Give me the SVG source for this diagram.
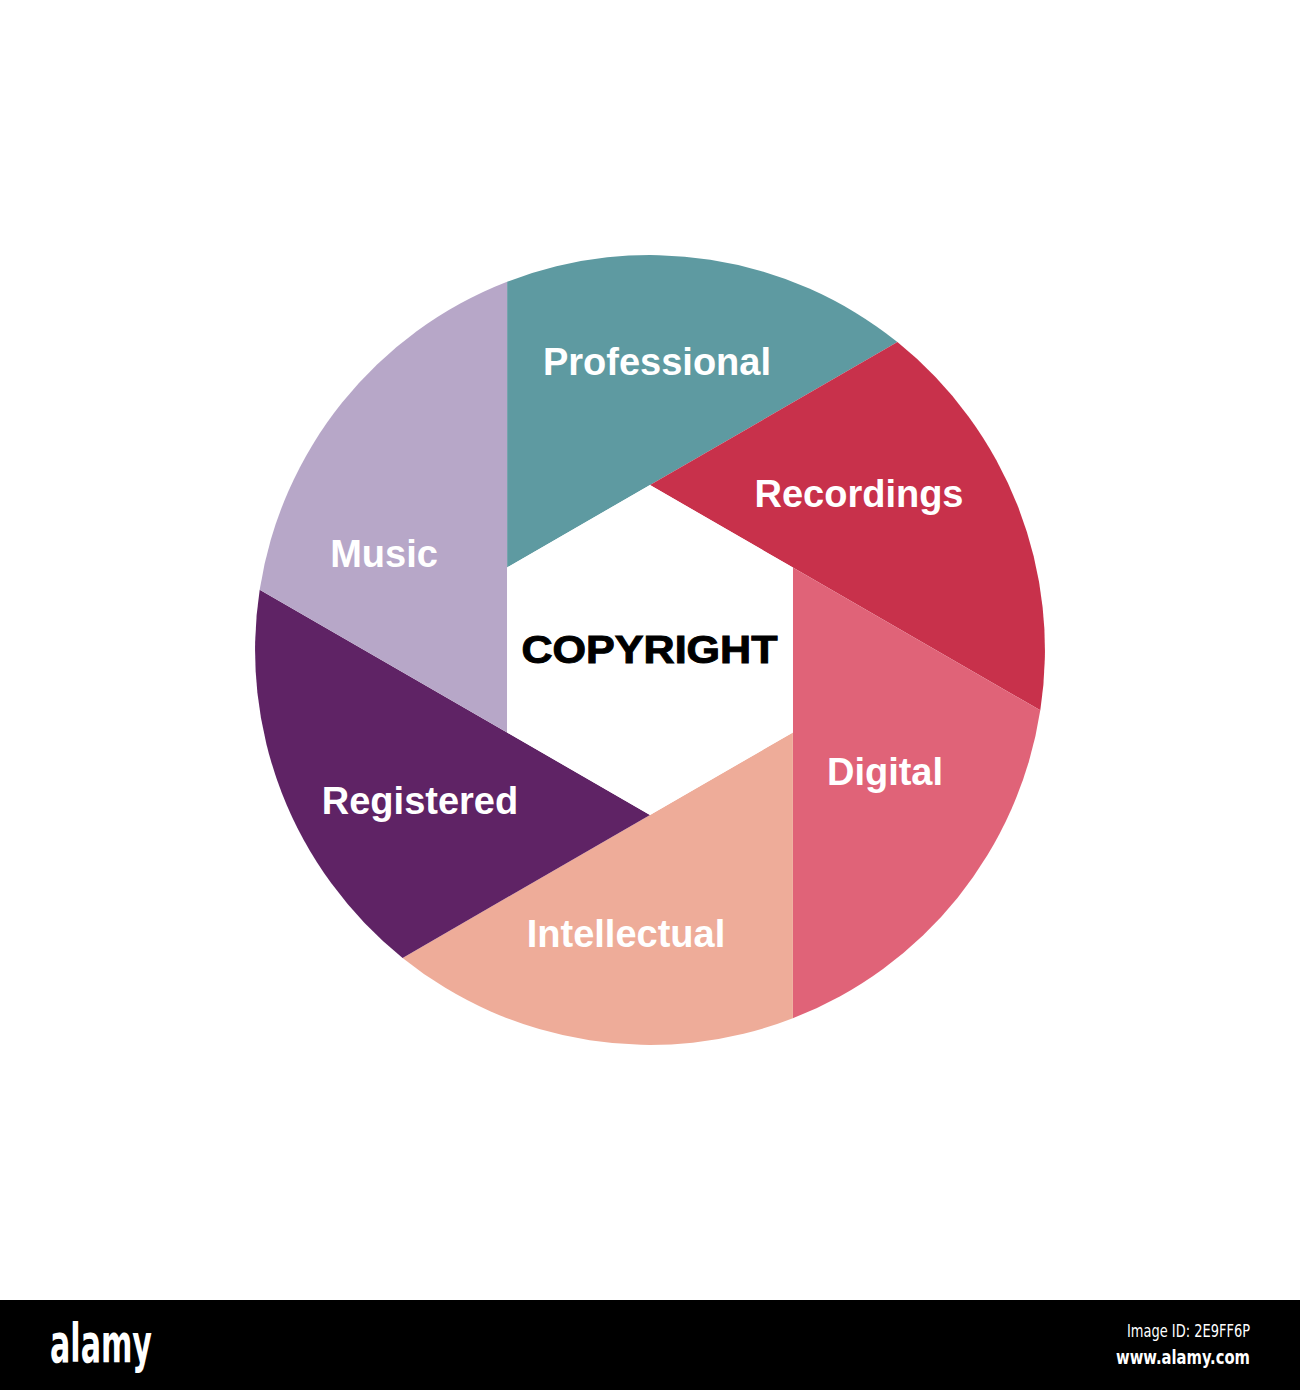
<svg xmlns="http://www.w3.org/2000/svg" width="1300" height="1390" viewBox="0 0 1300 1390">
  <style>
    .lbl { font-family: "Liberation Sans", Arial, sans-serif; font-weight: bold; font-size: 38px; fill: #ffffff; text-anchor: middle; }
    .center { font-family: "Liberation Sans", Arial, sans-serif; font-weight: bold; font-size: 39px; fill: #000000; stroke: #000000; stroke-width: 1; text-anchor: middle; }
    .seg { stroke: none; }
  </style>
  <rect x="0" y="0" width="1300" height="1390" fill="#ffffff"/>
  <g id="connectors"></g>
  <g id="professional">
    <path class="seg" fill="#5e9aa1" d="M507.1,567.5 L507.1,281.8 A395,395 0 0 1 897.4,342.1 L650,485 Z"/>
    <text class="lbl" x="657" y="375">Professional</text>
  </g>
  <g id="recordings">
    <path class="seg" fill="#c8314b" d="M650,485 L897.4,342.1 A395,395 0 0 1 1040.3,710.3 L792.9,567.5 Z"/>
    <text class="lbl" x="859" y="507">Recordings</text>
  </g>
  <g id="digital">
    <path class="seg" fill="#e06378" d="M792.9,567.5 L1040.3,710.3 A395,395 0 0 1 792.9,1018.2 L792.9,732.5 Z"/>
    <text class="lbl" x="885" y="785">Digital</text>
  </g>
  <g id="intellectual">
    <path class="seg" fill="#eeac99" d="M792.9,732.5 L792.9,1018.2 A395,395 0 0 1 402.6,957.9 L650,815 Z"/>
    <text class="lbl" x="626" y="947">Intellectual</text>
  </g>
  <g id="registered">
    <path class="seg" fill="#5f2365" d="M650,815 L402.6,957.9 A395,395 0 0 1 259.7,589.7 L507.1,732.5 Z"/>
    <text class="lbl" x="420" y="814">Registered</text>
  </g>
  <g id="music">
    <path class="seg" fill="#b7a7c8" d="M507.1,732.5 L259.7,589.7 A395,395 0 0 1 507.1,281.8 L507.1,567.5 Z"/>
    <text class="lbl" x="384" y="567">Music</text>
  </g>
  <g id="copyright">
    <path fill="#ffffff" d="M650,485 L792.9,567.5 L792.9,732.5 L650,815 L507.1,732.5 L507.1,567.5 Z"/>
    <text class="center" x="649.5" y="663" textLength="256" lengthAdjust="spacingAndGlyphs">COPYRIGHT</text>
  </g>
  <g id="watermark-band">
    <rect x="0" y="1300" width="1300" height="90" fill="#000000"/>
    <text x="50" y="1362" font-family="'DejaVu Sans Condensed', 'Liberation Sans', sans-serif" font-weight="bold" font-size="54" fill="#ffffff" textLength="102" lengthAdjust="spacingAndGlyphs">alamy</text>
    <text x="1250" y="1337" font-family="'DejaVu Sans Condensed', 'Liberation Sans', sans-serif" font-size="17" fill="#ffffff" text-anchor="end" textLength="123" lengthAdjust="spacingAndGlyphs">Image ID: 2E9FF6P</text>
    <text x="1250" y="1364" font-family="'DejaVu Sans Condensed', 'Liberation Sans', sans-serif" font-weight="bold" font-size="19" fill="#ffffff" text-anchor="end" textLength="134" lengthAdjust="spacingAndGlyphs">www.alamy.com</text>
  </g>
</svg>
